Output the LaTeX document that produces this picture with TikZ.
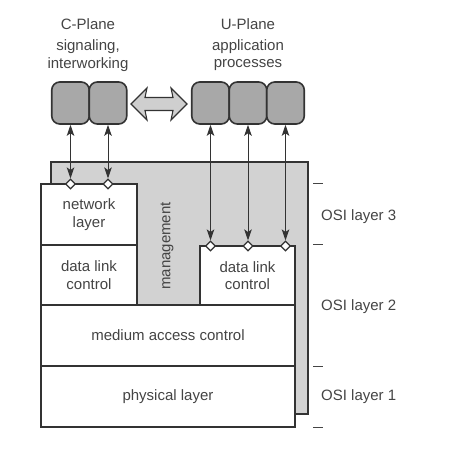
\documentclass[tikz,border=0pt]{standalone}
\usepackage{fontspec}
\setmainfont{Liberation Sans}
\usetikzlibrary{arrows.meta,shapes.geometric}
\definecolor{txt}{HTML}{444444}
\definecolor{ln}{HTML}{333333}
\definecolor{mgmt}{HTML}{D2D2D2}
\definecolor{proc}{HTML}{A8A8A8}
\definecolor{barrow}{HTML}{CFCFCF}
\tikzset{
  lbl/.style={text=txt,font=\fontsize{15}{16}\selectfont,inner sep=0pt},
  layerbox/.style={draw=ln,fill=white,line width=1.2pt,inner sep=0pt,text=txt,
    font=\fontsize{15}{17.5}\selectfont,align=center},
  procbox/.style={draw=ln,fill=proc,line width=1.6pt,rounded corners=8pt,
    minimum width=37.5pt,minimum height=42pt,inner sep=0pt},
  port/.style={diamond,draw=ln,fill=white,line width=1.1pt,minimum size=10pt,inner sep=0pt},
  link/.style={draw=ln,line width=1pt,{Stealth[length=11pt,width=7.5pt,inset=2.5pt]}-{Stealth[length=11pt,width=7.5pt,inset=2.5pt]}},
  tick/.style={draw=txt,line width=1pt},
}
\begin{document}
\begin{tikzpicture}[x=1pt,y=-1pt]
\useasboundingbox (0,0) rectangle (474,454);
% management background
\node[draw=ln,fill=mgmt,line width=1.2pt,minimum width=257pt,minimum height=252pt,inner sep=0pt] (mg) at (179.5,288) {};
\node[lbl,rotate=90] (mgt) at (167,246) {management};
% layer boxes
\node[layerbox,minimum width=96pt,minimum height=61pt] (nl) at (89,214.5) {network\\layer};
\node[layerbox,minimum width=96pt,minimum height=60pt] (dlcl) at (89,275) {data link\\control};
\node[layerbox,minimum width=95pt,minimum height=59pt] (dlcr) at (247.5,275.5) {data link\\control};
\node[layerbox,minimum width=254pt,minimum height=61pt] (mac) at (168,335.5) {medium access control};
\node[layerbox,minimum width=254pt,minimum height=61pt] (phy) at (168,396.5) {physical layer};
% process boxes
\node[procbox] (c1) at (70.5,103) {};
\node[procbox] (c2) at (108,103) {};
\node[procbox] (u1) at (210.5,103) {};
\node[procbox] (u2) at (248,103) {};
\node[procbox] (u3) at (285.5,103) {};
% ports
\node[port] (d1) at (70.5,184) {};
\node[port] (d2) at (108,184) {};
\node[port] (d3) at (210.5,246) {};
\node[port] (d4) at (248,246) {};
\node[port] (d5) at (285.5,246) {};
% links
\draw[link] (c1.south) -- (d1.north);
\draw[link] (c2.south) -- (d2.north);
\draw[link] (u1.south) -- (d3.north);
\draw[link] (u2.south) -- (d4.north);
\draw[link] (u3.south) -- (d5.north);
% block double arrow
\draw[draw=ln,fill=barrow,line width=1.1pt,line join=miter]
  (131,104) -- (147,88) -- (145,97.5) -- (173,97.5) -- (171,88) -- (187,104)
  -- (171,120) -- (173,110.5) -- (145,110.5) -- (147,120) -- cycle;
% top labels
\node[lbl] (cp) at (88,24) {C-Plane};
\node[lbl] (cp1) at (88,47) {signaling,};
\node[lbl] (cp2) at (88,65) {interworking};
\node[lbl] (up) at (248,24) {U-Plane};
\node[lbl] (up1) at (248,47) {application};
\node[lbl] (up2) at (248,65) {processes};
% OSI labels
\node[lbl,anchor=west] (o3) at (321,217) {OSI layer 3};
\node[lbl,anchor=west] (o2) at (321,307) {OSI layer 2};
\node[lbl,anchor=west] (o1) at (321,397) {OSI layer 1};
\coordinate (t1a) at (313,184); \coordinate (t1b) at (323,184);
\coordinate (t2a) at (313,245); \coordinate (t2b) at (323,245);
\coordinate (t3a) at (313,366); \coordinate (t3b) at (323,366);
\coordinate (t4a) at (313,427); \coordinate (t4b) at (323,427);
\draw[tick] (t1a) -- (t1b);
\draw[tick] (t2a) -- (t2b);
\draw[tick] (t3a) -- (t3b);
\draw[tick] (t4a) -- (t4b);
\end{tikzpicture}
\end{document}
